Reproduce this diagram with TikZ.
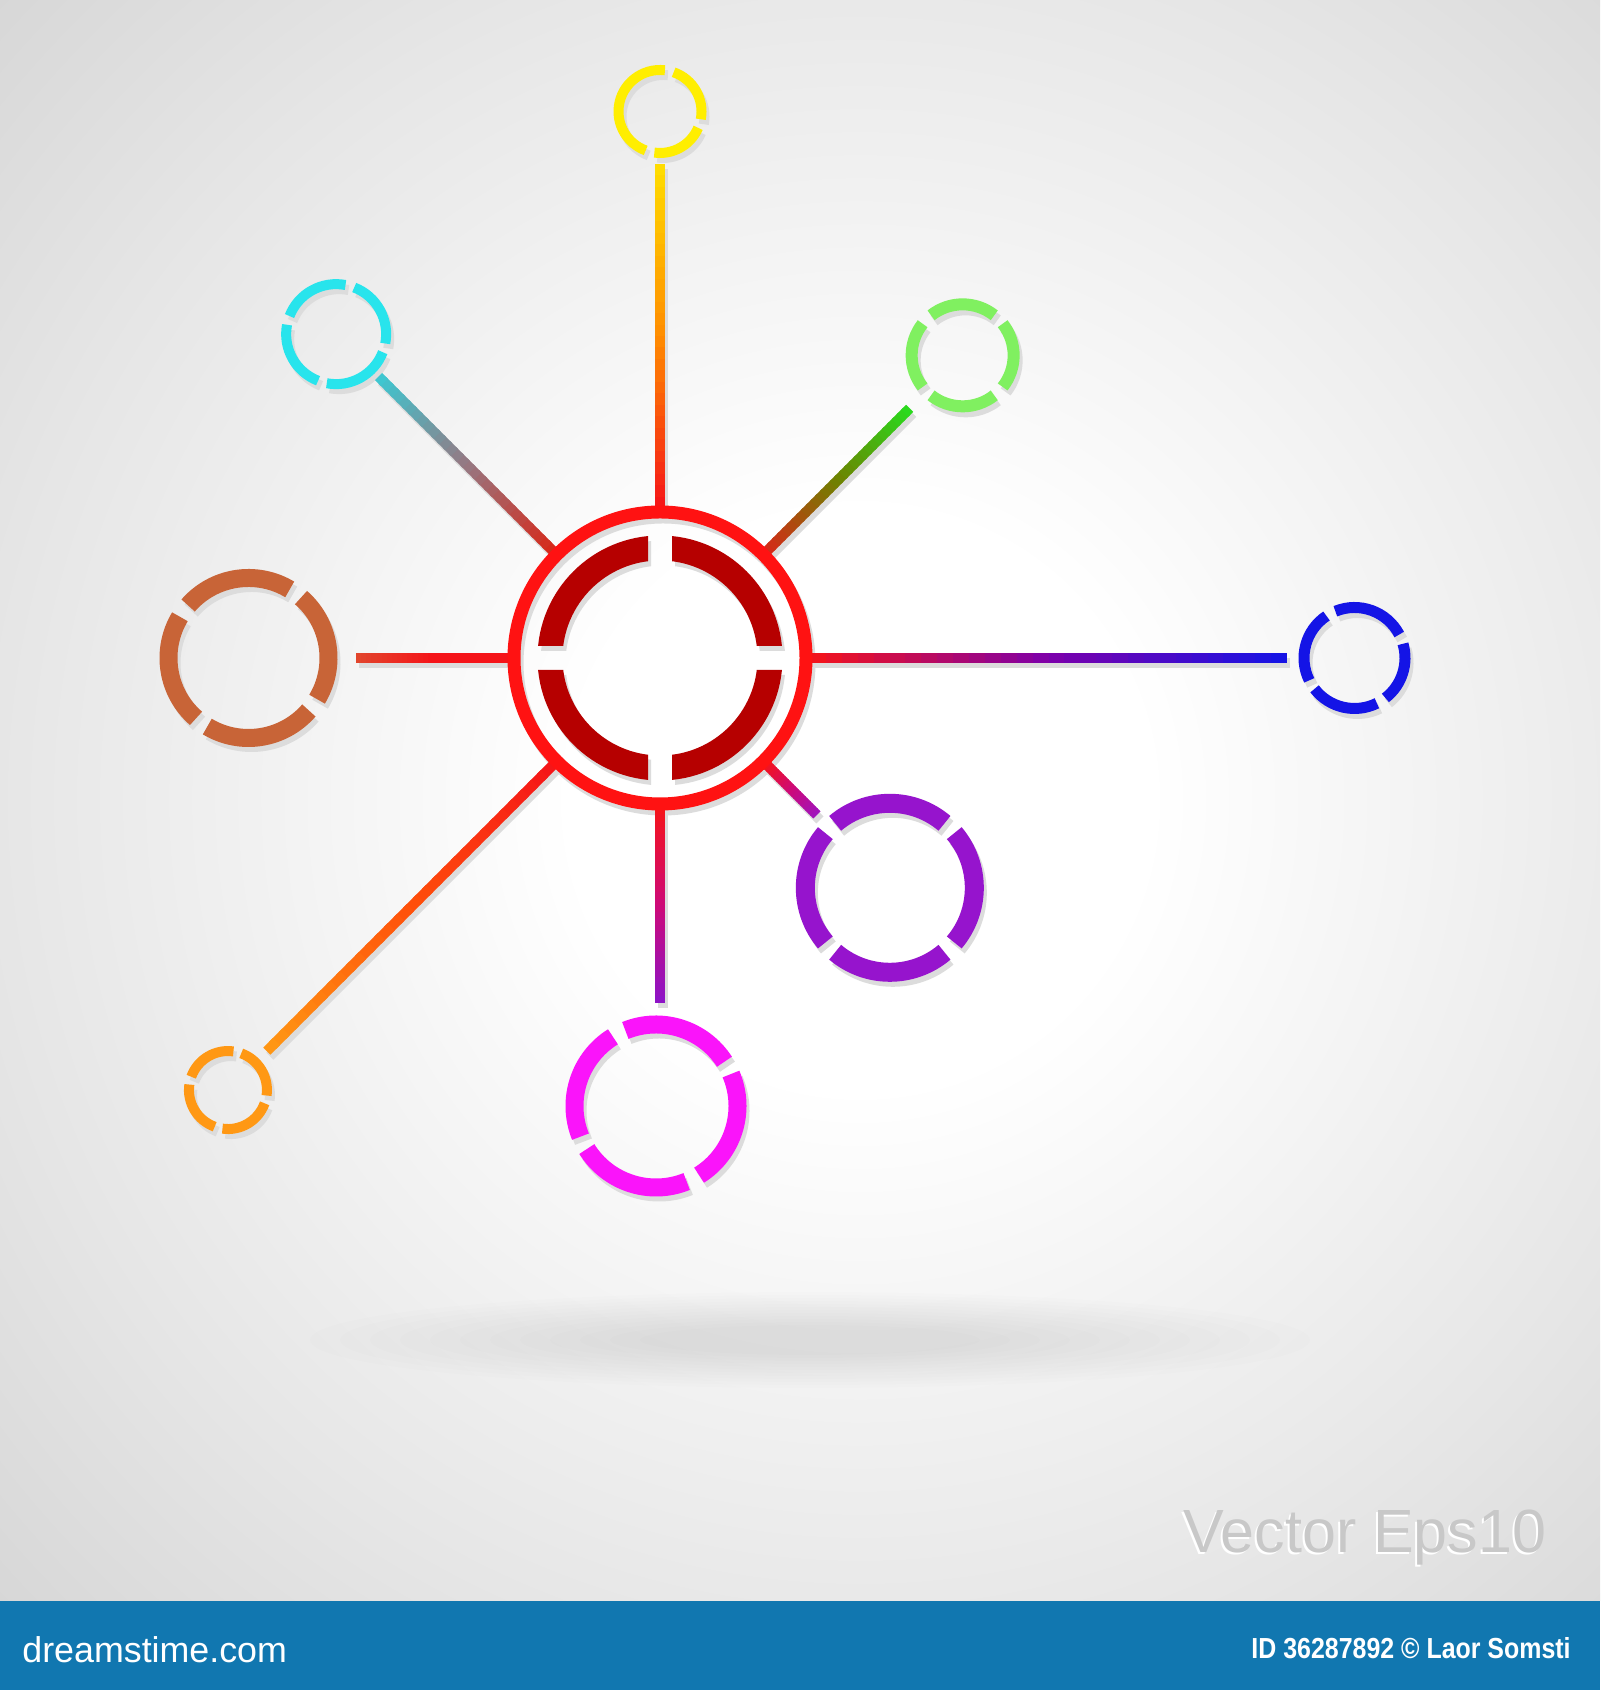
\documentclass[tikz,border=0pt]{standalone}
\usepackage{fontspec}
\setmainfont{Liberation Sans}
\usetikzlibrary{calc}
\definecolor{ringred}{RGB}{255,18,18}
\definecolor{darkred}{RGB}{182,0,0}
\definecolor{cyel}{RGB}{255,238,0}
\definecolor{ccyan}{RGB}{40,228,236}
\definecolor{cgreen}{RGB}{128,240,96}
\definecolor{cbrown}{RGB}{200,100,55}
\definecolor{cblue}{RGB}{20,20,230}
\definecolor{cpurple}{RGB}{150,20,205}
\definecolor{cmag}{RGB}{250,20,250}
\definecolor{corange}{RGB}{255,152,20}
\definecolor{shadowc}{RGB}{220,220,220}
\definecolor{bgmid}{RGB}{230,230,230}
\definecolor{bgedge}{RGB}{214,214,214}
\definecolor{barblue}{RGB}{17,119,176}
\definecolor{epsgray}{RGB}{200,200,200}
\definecolor{spor}{RGB}{255,140,0}
\definecolor{spyl}{RGB}{255,222,0}
\definecolor{spr}{RGB}{245,20,25}
\definecolor{spgray}{RGB}{150,120,130}
\definecolor{spteal}{RGB}{60,200,210}
\definecolor{spolive}{RGB}{110,130,0}
\definecolor{spgreen}{RGB}{40,220,30}
\definecolor{sprb}{RGB}{215,40,25}
\definecolor{spbrn}{RGB}{225,70,45}
\definecolor{spvio}{RGB}{125,0,170}
\definecolor{spmg}{RGB}{205,10,120}
\definecolor{sppu}{RGB}{160,20,190}
\definecolor{sppub}{RGB}{140,20,200}
\definecolor{spoo}{RGB}{255,80,10}
\pgfdeclareradialshading{bgshade}{\pgfpoint{0bp}{0bp}}{color(0bp)=(white); color(6bp)=(white); color(18bp)=(bgmid); color(25bp)=(bgedge); color(50bp)=(bgedge)}
\newif\ifshadowpass
% spoke: name, angle, r start, r end, c1 (centre end), c2 (middle), c3 (outer end)
\newcommand\spoke[7]{%
  \coordinate (#1a) at ($(C)+(#2:#3)$);
  \coordinate (#1b) at ($(C)+(#2:#4)$);
  \ifshadowpass
    \draw[line width=5pt, shadowc] (#1a) -- (#1b);
  \else
    \foreach \i in {0,...,29}{%
      \pgfmathsetmacro\ta{\i/30}%
      \pgfmathsetmacro\tb{min((\i+1.4)/30,1)}%
      \ifnum\i<15
        \pgfmathtruncatemacro\pp{round(100*(\i+0.5)/15)}%
        \colorlet{segc}{#6!\pp!#5}%
      \else
        \pgfmathtruncatemacro\pp{round(100*(\i-14.5)/15)}%
        \colorlet{segc}{#7!\pp!#6}%
      \fi
      \draw[line width=5pt, segc] ($(#1a)!\ta!(#1b)$) -- ($(#1a)!\tb!(#1b)$);
    }%
  \fi}
% satellite ring: centre, mid radius, line width, colour, half gap (deg), arc pairs
\newcommand\satring[6]{%
  \ifshadowpass\colorlet{curc}{shadowc}\else\colorlet{curc}{#4}\fi
  \foreach \a/\b in {#6}{%
    \draw[line width=#3, curc] ($(#1)+({\a+#5}:#2)$) arc[start angle={\a+#5}, end angle={\b-#5}, radius=#2];
  }}
\newcommand\drawall[2]{%
  \coordinate (C) at (660+#1,1032+#2);
  \coordinate (Y) at ($(C)+(90:546.5)$);
  \coordinate (Cy) at ($(C)+(135:458)$);
  \coordinate (G) at ($(C)+(45:428)$);
  \coordinate (Br) at ($(C)+(180:411.5)$);
  \coordinate (Bl) at ($(C)+(0:694.5)$);
  \coordinate (P) at ($(C)+(-45:325)$);
  \coordinate (M) at ($(C)+(-4,-448)$);
  \coordinate (O) at ($(C)+(225:611)$);
  % spokes
  \spoke{sY}{90}{150}{494}{spr}{spor}{spyl}
  \spoke{sCy}{135}{150}{398}{sprb}{spgray}{spteal}
  \spoke{sG}{45}{150}{353}{sprb}{spolive}{spgreen}
  \spoke{sBr}{180}{150}{304}{spr}{spr}{spbrn}
  \spoke{sBl}{0}{150}{627}{spr}{spvio}{cblue}
  \spoke{sP}{-45}{150}{222}{spr}{spmg}{sppu}
  \spoke{sM}{270}{150}{345}{spr}{spmg}{sppub}
  \spoke{sO}{225}{150}{556}{spr}{spoo}{corange}
  % centre
  \ifshadowpass\colorlet{curA}{shadowc}\colorlet{curB}{shadowc}\else\colorlet{curA}{ringred}\colorlet{curB}{darkred}\fi
  \draw[line width=6.5pt, curA] (C) circle[radius=146];
  \begin{scope}
    \clip ($(C)+(12,12)$) rectangle ($(C)+(140,140)$)
          ($(C)+(-12,12)$) rectangle ($(C)+(-140,140)$)
          ($(C)+(-12,-12)$) rectangle ($(C)+(-140,-140)$)
          ($(C)+(12,-12)$) rectangle ($(C)+(140,-140)$);
    \draw[line width=12.5pt, curB] (C) circle[radius=110];
  \end{scope}
  % satellites
  \satring{Y}{41.5}{5pt}{cyel}{6.2}{-104/-17,-17/77,77/256}
  \satring{Cy}{50}{5pt}{ccyan}{5.2}{-106/-16,-16/74,74/164,164/254}
  \satring{G}{51}{6pt}{cgreen}{6.7}{45/135,135/225,225/315,315/405}
  \satring{Br}{80}{9pt}{cbrown}{5}{54/144,144/234,234/324,324/414}
  \satring{Bl}{50.5}{5.5pt}{cblue}{5.7}{22/118,118/212,212/302,302/382}
  \satring{P}{84.5}{9.5pt}{cpurple}{4.7}{45/135,135/225,225/315,315/405}
  \satring{M}{81.5}{9pt}{cmag}{4.9}{28/117,117/207,207/297,297/388}
  \satring{O}{39}{5pt}{corange}{5.9}{76/166,166/256,256/346,346/436}
}
\begin{document}
\begin{tikzpicture}[x=0.5pt,y=0.5pt]
\useasboundingbox (0,0) rectangle (1600,1690);
% background
\begin{scope}
  \clip (0,89) rectangle (1600,1690);
  \fill[bgedge] (0,89) rectangle (1600,1690);
  \shade[shading=bgshade] (860,890) circle[radius=1200];
\end{scope}
% soft floor shadow
\foreach \k in {0,...,11}{
  \fill[black, opacity=0.006] (810,350) ellipse[x radius={500-30*\k}, y radius={48-3*\k}];
}
% bottom bar
\fill[barblue] (0,0) rectangle (1600,89);
% shadows, then the diagram
\shadowpasstrue
\drawall{3}{-5}
\shadowpassfalse
\drawall{0}{0}
% texts
\node[anchor=base west, inner sep=0, text=white, font=\fontsize{30.5pt}{36pt}\selectfont] (epsw) at (1181,135) {Vector Eps10};
\node[anchor=base west, inner sep=0, text=epsgray, font=\fontsize{30.5pt}{36pt}\selectfont] (eps) at (1183,137) {Vector Eps10};
\node[anchor=base west, inner sep=0, text=white, font=\fontsize{17.9pt}{20pt}\selectfont] (dt) at (22,27) {dreamstime.com};
\node[anchor=base east, inner sep=0, text=white, xscale=0.86, font=\bfseries\fontsize{14.5pt}{17pt}\selectfont] (id) at (1571,32) {ID 36287892 © Laor Somsti};
\end{tikzpicture}
\end{document}
